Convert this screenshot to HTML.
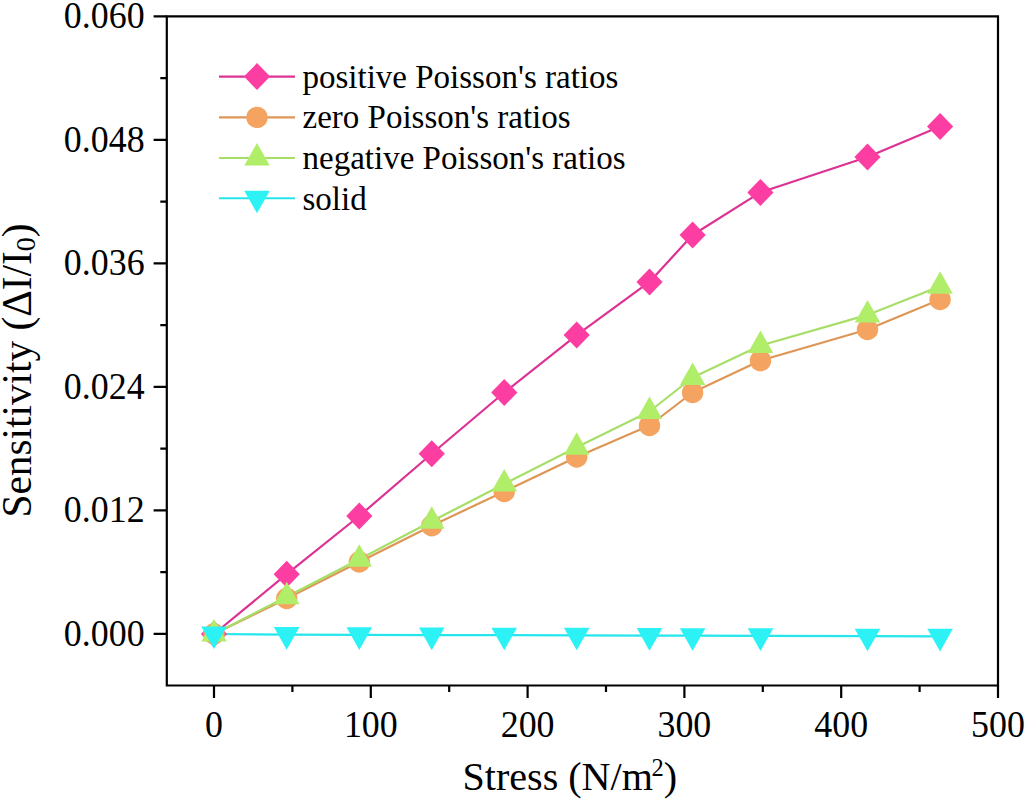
<!DOCTYPE html>
<html><head><meta charset="utf-8"><style>
html,body{margin:0;padding:0;background:#fff;width:1025px;height:800px;overflow:hidden}
svg{display:block}
text{font-family:"Liberation Serif",serif;fill:#000}
</style></head><body>
<svg width="1025" height="800" viewBox="0 0 1025 800">
<rect x="0" y="0" width="1025" height="800" fill="#ffffff"/>
<path fill="none" stroke="#000000" stroke-width="2.2" stroke-linecap="square" d="M166.80 16.40H998.00V685.50H166.80Z"/>
<path fill="none" stroke="#000000" stroke-width="2.2" d="M166.80 633.90H153.60 M166.80 572.15H160.30 M166.80 510.40H153.60 M166.80 448.65H160.30 M166.80 386.90H153.60 M166.80 325.15H160.30 M166.80 263.40H153.60 M166.80 201.65H160.30 M166.80 139.90H153.60 M166.80 78.15H160.30 M166.80 16.40H153.60 M214.00 685.50V698.00 M292.40 685.50V692.00 M370.80 685.50V698.00 M449.20 685.50V692.00 M527.60 685.50V698.00 M606.00 685.50V692.00 M684.40 685.50V698.00 M762.80 685.50V692.00 M841.20 685.50V698.00 M919.60 685.50V692.00 M998.00 685.50V698.00"/>
<text transform="translate(144.6,645.70) scale(0.97,1)" text-anchor="end" font-size="37">0.000</text>
<text transform="translate(144.6,522.20) scale(0.97,1)" text-anchor="end" font-size="37">0.012</text>
<text transform="translate(144.6,398.70) scale(0.97,1)" text-anchor="end" font-size="37">0.024</text>
<text transform="translate(144.6,275.20) scale(0.97,1)" text-anchor="end" font-size="37">0.036</text>
<text transform="translate(144.6,151.70) scale(0.97,1)" text-anchor="end" font-size="37">0.048</text>
<text transform="translate(144.6,28.20) scale(0.97,1)" text-anchor="end" font-size="37">0.060</text>
<text transform="translate(214.00,737) scale(0.97,1)" text-anchor="middle" font-size="37">0</text>
<text transform="translate(370.80,737) scale(0.97,1)" text-anchor="middle" font-size="37">100</text>
<text transform="translate(527.60,737) scale(0.97,1)" text-anchor="middle" font-size="37">200</text>
<text transform="translate(684.40,737) scale(0.97,1)" text-anchor="middle" font-size="37">300</text>
<text transform="translate(841.20,737) scale(0.97,1)" text-anchor="middle" font-size="37">400</text>
<text transform="translate(998.00,737) scale(0.97,1)" text-anchor="middle" font-size="37">500</text>
<text x="462.5" y="790" font-size="40.1">Stress (N/m<tspan font-size="24.5" dx="-1.5" dy="-14">2</tspan><tspan dy="14">)</tspan></text>
<text transform="translate(30.75,517.5) rotate(-90)" font-size="41.3">Sensitivity (ΔI/I<tspan font-size="28" dy="4">0</tspan><tspan dy="-4">)</tspan></text>
<polyline fill="none" stroke="#dc3294" stroke-width="2.2" stroke-linejoin="round" points="214.00,634.00 286.70,574.20 359.30,516.00 431.75,453.75 504.25,392.50 576.70,335.10 649.50,281.90 692.60,235.00 760.40,192.40 867.50,157.00 940.10,126.40"/>
<polyline fill="none" stroke="#de9656" stroke-width="2.2" stroke-linejoin="round" points="214.00,634.00 286.70,598.50 359.30,562.00 431.75,525.75 504.25,491.50 576.70,457.00 649.50,425.50 692.60,392.50 760.50,360.60 867.50,329.50 940.10,299.50"/>
<polyline fill="none" stroke="#a6de68" stroke-width="2.2" stroke-linejoin="round" points="214.00,634.00 286.70,596.75 359.30,559.20 431.75,521.25 504.25,484.00 576.70,447.20 649.50,411.50 692.60,377.50 760.50,345.60 867.50,314.90 940.10,286.20"/>
<polyline fill="none" stroke="#24e6ec" stroke-width="2.2" stroke-linejoin="round" points="214.00,634.00 286.70,634.60 359.30,634.90 431.75,635.10 504.25,635.20 576.70,635.30 649.50,635.60 692.60,635.70 760.50,635.90 867.50,636.20 940.10,636.40"/>
<path fill="#fc3ea2" d="M214.00 620.50L227.10 634.00L214.00 647.50L200.90 634.00Z"/>
<path fill="#fc3ea2" d="M286.70 560.70L299.80 574.20L286.70 587.70L273.60 574.20Z"/>
<path fill="#fc3ea2" d="M359.30 502.50L372.40 516.00L359.30 529.50L346.20 516.00Z"/>
<path fill="#fc3ea2" d="M431.75 440.25L444.85 453.75L431.75 467.25L418.65 453.75Z"/>
<path fill="#fc3ea2" d="M504.25 379.00L517.35 392.50L504.25 406.00L491.15 392.50Z"/>
<path fill="#fc3ea2" d="M576.70 321.60L589.80 335.10L576.70 348.60L563.60 335.10Z"/>
<path fill="#fc3ea2" d="M649.50 268.40L662.60 281.90L649.50 295.40L636.40 281.90Z"/>
<path fill="#fc3ea2" d="M692.60 221.50L705.70 235.00L692.60 248.50L679.50 235.00Z"/>
<path fill="#fc3ea2" d="M760.40 178.90L773.50 192.40L760.40 205.90L747.30 192.40Z"/>
<path fill="#fc3ea2" d="M867.50 143.50L880.60 157.00L867.50 170.50L854.40 157.00Z"/>
<path fill="#fc3ea2" d="M940.10 112.90L953.20 126.40L940.10 139.90L927.00 126.40Z"/>
<circle fill="#f4a460" cx="214.00" cy="634.00" r="10.70"/>
<circle fill="#f4a460" cx="286.70" cy="598.50" r="10.70"/>
<circle fill="#f4a460" cx="359.30" cy="562.00" r="10.70"/>
<circle fill="#f4a460" cx="431.75" cy="525.75" r="10.70"/>
<circle fill="#f4a460" cx="504.25" cy="491.50" r="10.70"/>
<circle fill="#f4a460" cx="576.70" cy="457.00" r="10.70"/>
<circle fill="#f4a460" cx="649.50" cy="425.50" r="10.70"/>
<circle fill="#f4a460" cx="692.60" cy="392.50" r="10.70"/>
<circle fill="#f4a460" cx="760.50" cy="360.60" r="10.70"/>
<circle fill="#f4a460" cx="867.50" cy="329.50" r="10.70"/>
<circle fill="#f4a460" cx="940.10" cy="299.50" r="10.70"/>
<path fill="#b0ee6a" d="M214.00 619.00L226.75 641.50L201.25 641.50Z"/>
<path fill="#b0ee6a" d="M286.70 581.75L299.45 604.25L273.95 604.25Z"/>
<path fill="#b0ee6a" d="M359.30 544.20L372.05 566.70L346.55 566.70Z"/>
<path fill="#b0ee6a" d="M431.75 506.25L444.50 528.75L419.00 528.75Z"/>
<path fill="#b0ee6a" d="M504.25 469.00L517.00 491.50L491.50 491.50Z"/>
<path fill="#b0ee6a" d="M576.70 432.20L589.45 454.70L563.95 454.70Z"/>
<path fill="#b0ee6a" d="M649.50 396.50L662.25 419.00L636.75 419.00Z"/>
<path fill="#b0ee6a" d="M692.60 362.50L705.35 385.00L679.85 385.00Z"/>
<path fill="#b0ee6a" d="M760.50 330.60L773.25 353.10L747.75 353.10Z"/>
<path fill="#b0ee6a" d="M867.50 299.90L880.25 322.40L854.75 322.40Z"/>
<path fill="#b0ee6a" d="M940.10 271.20L952.85 293.70L927.35 293.70Z"/>
<path fill="#2cf2f6" d="M201.20 626.47L226.80 626.47L214.00 649.07Z"/>
<path fill="#2cf2f6" d="M273.90 627.07L299.50 627.07L286.70 649.67Z"/>
<path fill="#2cf2f6" d="M346.50 627.37L372.10 627.37L359.30 649.97Z"/>
<path fill="#2cf2f6" d="M418.95 627.57L444.55 627.57L431.75 650.17Z"/>
<path fill="#2cf2f6" d="M491.45 627.67L517.05 627.67L504.25 650.27Z"/>
<path fill="#2cf2f6" d="M563.90 627.77L589.50 627.77L576.70 650.37Z"/>
<path fill="#2cf2f6" d="M636.70 628.07L662.30 628.07L649.50 650.67Z"/>
<path fill="#2cf2f6" d="M679.80 628.17L705.40 628.17L692.60 650.77Z"/>
<path fill="#2cf2f6" d="M747.70 628.37L773.30 628.37L760.50 650.97Z"/>
<path fill="#2cf2f6" d="M854.70 628.67L880.30 628.67L867.50 651.27Z"/>
<path fill="#2cf2f6" d="M927.30 628.87L952.90 628.87L940.10 651.47Z"/>
<path stroke="#dc3294" stroke-width="2.1" d="M219 76.6H295"/>
<path fill="#fc3ea2" d="M257.00 63.10L270.10 76.60L257.00 90.10L243.90 76.60Z"/>
<path stroke="#de9656" stroke-width="2.1" d="M219 117.4H295"/>
<circle fill="#f4a460" cx="257.00" cy="117.40" r="10.70"/>
<path stroke="#a6de68" stroke-width="2.1" d="M219 158.0H295"/>
<path fill="#b0ee6a" d="M257.00 143.00L269.75 165.50L244.25 165.50Z"/>
<path stroke="#24e6ec" stroke-width="2.1" d="M219 198.3H295"/>
<path fill="#2cf2f6" d="M244.20 190.77L269.80 190.77L257.00 213.37Z"/>
<text x="302.5" y="87.8" font-size="33">positive Poisson's ratios</text>
<text x="302.5" y="128.4" font-size="33">zero Poisson's ratios</text>
<text x="302.5" y="169.0" font-size="33">negative Poisson's ratios</text>
<text x="302.5" y="209.6" font-size="33">solid</text>
</svg></body></html>
